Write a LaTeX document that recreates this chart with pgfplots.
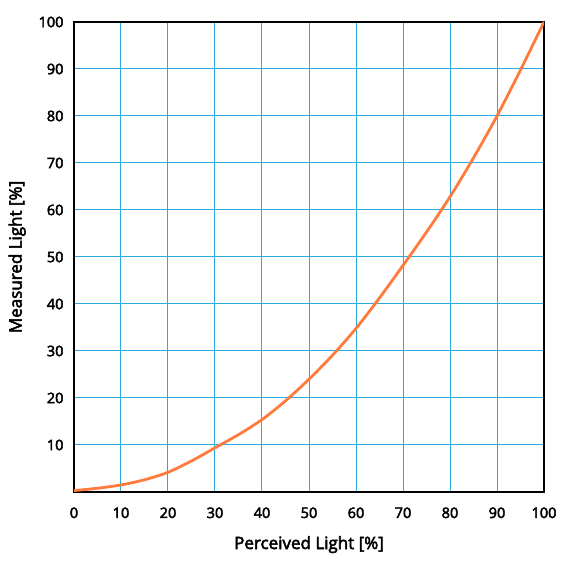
\documentclass[border=0pt]{standalone}
\usepackage{pgfplots}
\pgfplotsset{compat=1.18}
\usepackage{fontspec}
\setmainfont{Open Sans}[FakeBold=3]
\definecolor{gridblue}{HTML}{2AA8E0}
\definecolor{curve}{HTML}{FF7A3D}
\begin{document}
\begin{tikzpicture}
  \begin{axis}[
    name=ax,
    scale only axis,
    width=470pt, height=470pt,
    xmin=0, xmax=100, ymin=0, ymax=100,
    xtick={0,10,...,100},
    ytick={10,20,...,100},
    grid=major,
    major grid style={gridblue, line width=1pt},
    major tick length=0pt,
    axis line style={line width=2.6pt, black},
    tick label style={font=\fontsize{14.5}{16}\selectfont},
    /pgf/number format/assume math mode=true,
    xticklabel style={anchor=base, yshift=-26pt},
    yticklabel style={xshift=-7pt},
    label style={font=\fontsize{17}{19}\selectfont},
    xlabel={Perceived Light [\%]},
    ylabel={Measured Light [\%]},
    xlabel style={at={(0.5,0)}, anchor=base, yshift=-57pt},
    ylabel style={yshift=6pt},
  ]
    \addplot[curve, line width=2.8pt, smooth] coordinates {
      (0,0.3) (5,0.8) (10,1.5) (15,2.6) (20,4.2) (25,6.6) (30,9.4)
      (35,12.2) (40,15.4) (45,19.4) (50,24.0) (55,29.1) (60,34.8)
      (65,41.3) (70,48.2) (75,55.3) (80,62.8) (85,71.1) (90,80.0)
      (95,89.8) (100,100)
    };
  \end{axis}
  \useasboundingbox ([shift={(-74pt,-73pt)}]ax.south west) rectangle ([shift={(32pt,22pt)}]ax.north east);
\end{tikzpicture}
\end{document}
